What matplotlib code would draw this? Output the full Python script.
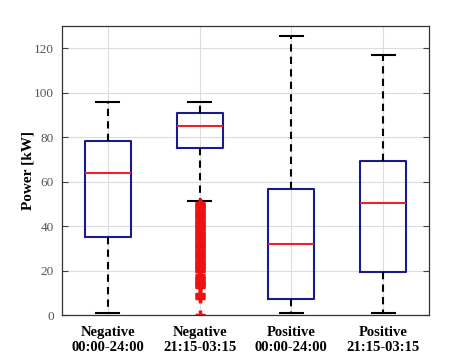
import matplotlib
matplotlib.use("Agg")
import matplotlib.pyplot as plt

categories = ["Negative\n00:00-24:00", "Negative\n21:15-03:15",
              "Positive\n00:00-24:00", "Positive\n21:15-03:15"]
whisker_low = [0.7, 51.2, 0.7, 0.7]
q1 = [34.9, 75.1, 7.0, 19.5]
median = [63.8, 85.1, 31.9, 50.6]
q3 = [78.2, 90.9, 56.9, 69.4]
whisker_high = [95.7, 95.7, 125.4, 117.1]
outliers_neg_night = [50.5, 50.0, 49.5, 49.0, 48.5, 48.0, 47.5, 47.0, 46.5, 46.0,
                      45.5, 45.0, 44.5, 44.0, 43.5, 43.0, 42.5, 42.0, 41.5, 41.0,
                      40.5, 40.0, 39.5, 39.0, 38.5, 38.0, 37.5, 37.0, 36.5, 36.0,
                      35.5, 35.0, 34.5, 34.0, 33.5, 33.0, 32.5, 32.0, 31.5, 31.0,
                      30.5, 30.0, 29.5, 29.0, 28.5, 28.0, 27.5, 27.0, 26.5, 26.0,
                      25.5, 25.0, 24.5, 24.0, 23.5, 23.0, 22.5, 22.0, 21.5, 21.0,
                      20.5, 20.0, 19.6, 17.8, 17.2, 16.5, 16.0, 15.5, 15.0, 14.5,
                      14.0, 13.5, 13.0, 12.5, 9.5, 9.0, 8.0, 7.5, 0.0]
outliers = [[], outliers_neg_night, [], []]

plt.rcParams['font.family'] = ['Liberation Serif', 'DejaVu Serif']

fig = plt.figure(figsize=(4.74, 3.55), dpi=100)
ax = fig.add_axes([62/474, 1-315/355, (429-62)/474, (315-26)/355])

stats = []
for i in range(4):
    stats.append(dict(whislo=whisker_low[i], q1=q1[i], med=median[i], q3=q3[i],
                      whishi=whisker_high[i], fliers=outliers[i], label=categories[i]))

navy = '#1a1a8c'
ax.bxp(stats, positions=[1, 2, 3, 4], widths=0.5, showfliers=True,
       boxprops=dict(color=navy, linewidth=1.5),
       medianprops=dict(color='#e8232a', linewidth=1.5),
       whiskerprops=dict(color='black', linewidth=1.5, linestyle=(0, (3.5, 2.5))),
       capprops=dict(color='black', linewidth=1.5),
       capwidths=0.25,
       flierprops=dict(marker='+', markeredgecolor='#ee1111', markersize=7.5,
                       markeredgewidth=2.5, linestyle='none'))

ax.set_xlim(0.5, 4.5)
ax.set_ylim(0, 130)
ax.set_yticks([0, 20, 40, 60, 80, 100, 120])
ax.set_xticks([1, 2, 3, 4])
ax.set_xticklabels(categories, fontweight='bold', fontsize=10.5, color='black')
ax.grid(True, color='#dcdcdc', linewidth=0.8)
ax.set_axisbelow(True)
ax.tick_params(axis='y', direction='in', labelsize=9.5, labelcolor='#555555',
               right=True, length=4, color='#444444', pad=6)
ax.tick_params(axis='x', direction='in', length=0, pad=8)
for s in ax.spines.values():
    s.set_color('#333333')
    s.set_linewidth(0.9)
ax.set_ylabel('Power [kW]', fontweight='bold', fontsize=11)
ax.yaxis.set_label_coords(-0.076, 0.5)

fig.savefig('out.png', dpi=100)
